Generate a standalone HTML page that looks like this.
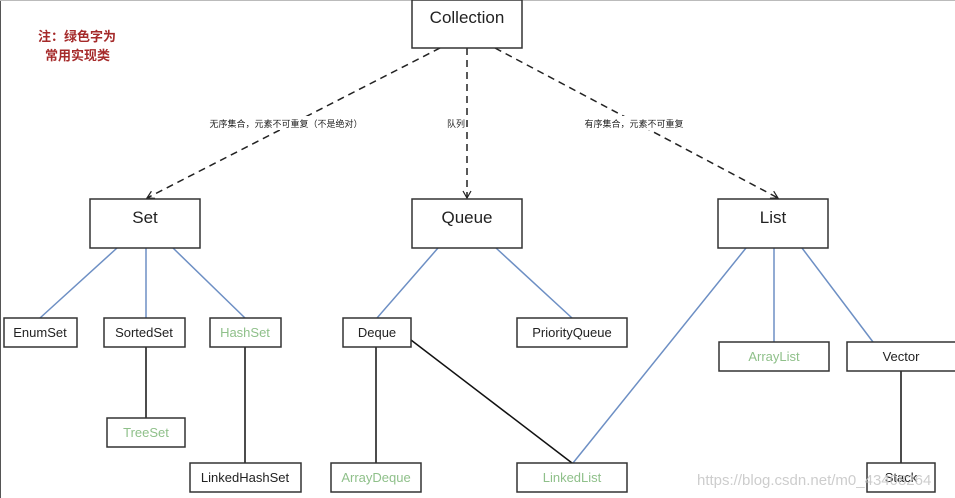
<!DOCTYPE html>
<html><head><meta charset="utf-8"><style>
body{margin:0;background:#fff;}
svg{display:block;font-family:"Liberation Sans","Noto Sans CJK SC",sans-serif;}
</style></head><body>
<svg width="955" height="498" viewBox="0 0 955 498" xmlns="http://www.w3.org/2000/svg">
<rect width="955" height="498" fill="#fff"/>
<line x1="0.5" y1="0" x2="0.5" y2="498" stroke="#555" stroke-width="1"/>
<line x1="0" y1="0.5" x2="955" y2="0.5" stroke="#bbb" stroke-width="1"/>
<defs><marker id="ar" markerWidth="10" markerHeight="10" refX="8" refY="5" orient="auto" markerUnits="userSpaceOnUse"><path d="M1,1 L8,5 L1,9" fill="none" stroke="#222" stroke-width="1.2"/></marker></defs>
<g stroke="#222" stroke-width="1.5" stroke-dasharray="7,5" fill="none">
<line x1="440" y1="48" x2="147" y2="198" marker-end="url(#ar)"/>
<line x1="467" y1="48" x2="467" y2="198" marker-end="url(#ar)"/>
<line x1="495" y1="48" x2="778" y2="198" marker-end="url(#ar)"/>
</g>
<g font-size="9" fill="#222" text-anchor="middle">
<rect x="212" y="116" width="150" height="14" fill="#fff"/>
<text x="286" y="127">无序集合，元素不可重复（不是绝对）</text>
<rect x="446" y="116" width="20" height="14" fill="#fff"/>
<text x="456" y="127">队列</text>
<rect x="578" y="116" width="112" height="14" fill="#fff"/>
<text x="634" y="127">有序集合，元素不可重复</text>
</g>
<g font-size="13" fill="#a52a2a" font-weight="bold">
<text x="38" y="41">注：绿色字为</text>
<text x="45" y="60">常用实现类</text>
</g>
<g stroke="#6d8fc4" stroke-width="1.5">
<line x1="117" y1="248" x2="40" y2="318"/>
<line x1="146" y1="248" x2="146" y2="318"/>
<line x1="173" y1="248" x2="245" y2="318"/>
<line x1="438" y1="248" x2="377" y2="318"/>
<line x1="496" y1="248" x2="572" y2="318"/>
<line x1="746" y1="248" x2="573" y2="463"/>
<line x1="774" y1="248" x2="774" y2="342"/>
<line x1="802" y1="248" x2="873" y2="342"/>
</g>
<g stroke="#111" stroke-width="1.5">
<line x1="146" y1="347" x2="146" y2="418"/>
<line x1="245" y1="347" x2="245" y2="463"/>
<line x1="376" y1="347" x2="376" y2="463"/>
<line x1="411" y1="340" x2="572" y2="463"/>
<line x1="901" y1="371" x2="901" y2="463"/>
</g>
<g fill="#fff" stroke="#333" stroke-width="1.5">
<rect x="412" y="0" width="110" height="48"/>
<rect x="90" y="199" width="110" height="49"/>
<rect x="412" y="199" width="110" height="49"/>
<rect x="718" y="199" width="110" height="49"/>
<rect x="4" y="318" width="73" height="29"/>
<rect x="104" y="318" width="81" height="29"/>
<rect x="210" y="318" width="71" height="29"/>
<rect x="343" y="318" width="68" height="29"/>
<rect x="517" y="318" width="110" height="29"/>
<rect x="719" y="342" width="110" height="29"/>
<rect x="847" y="342" width="110" height="29"/>
<rect x="107" y="418" width="78" height="29"/>
<rect x="190" y="463" width="111" height="29"/>
<rect x="331" y="463" width="90" height="29"/>
<rect x="517" y="463" width="110" height="29"/>
<rect x="867" y="463" width="68" height="29"/>
</g>
<g font-size="17" fill="#222" text-anchor="middle">
<text x="467" y="23">Collection</text>
<text x="145" y="223">Set</text>
<text x="467" y="223">Queue</text>
<text x="773" y="223">List</text>
</g>
<g font-size="13" fill="#222" text-anchor="middle">
<text x="40" y="337">EnumSet</text>
<text x="144" y="337">SortedSet</text>
<text x="377" y="337">Deque</text>
<text x="572" y="337">PriorityQueue</text>
<text x="901" y="361">Vector</text>
<text x="245" y="482">LinkedHashSet</text>
<text x="901" y="482">Stack</text>
</g>
<g font-size="13" fill="#8fc08a" text-anchor="middle">
<text x="245" y="337">HashSet</text>
<text x="774" y="361">ArrayList</text>
<text x="146" y="437">TreeSet</text>
<text x="376" y="482">ArrayDeque</text>
<text x="572" y="482">LinkedList</text>
</g>
<text x="697" y="485" font-size="15" fill="#c8c8c8" opacity="0.9">https://blog.csdn.net/m0_43408264</text>
</svg>
</body></html>
